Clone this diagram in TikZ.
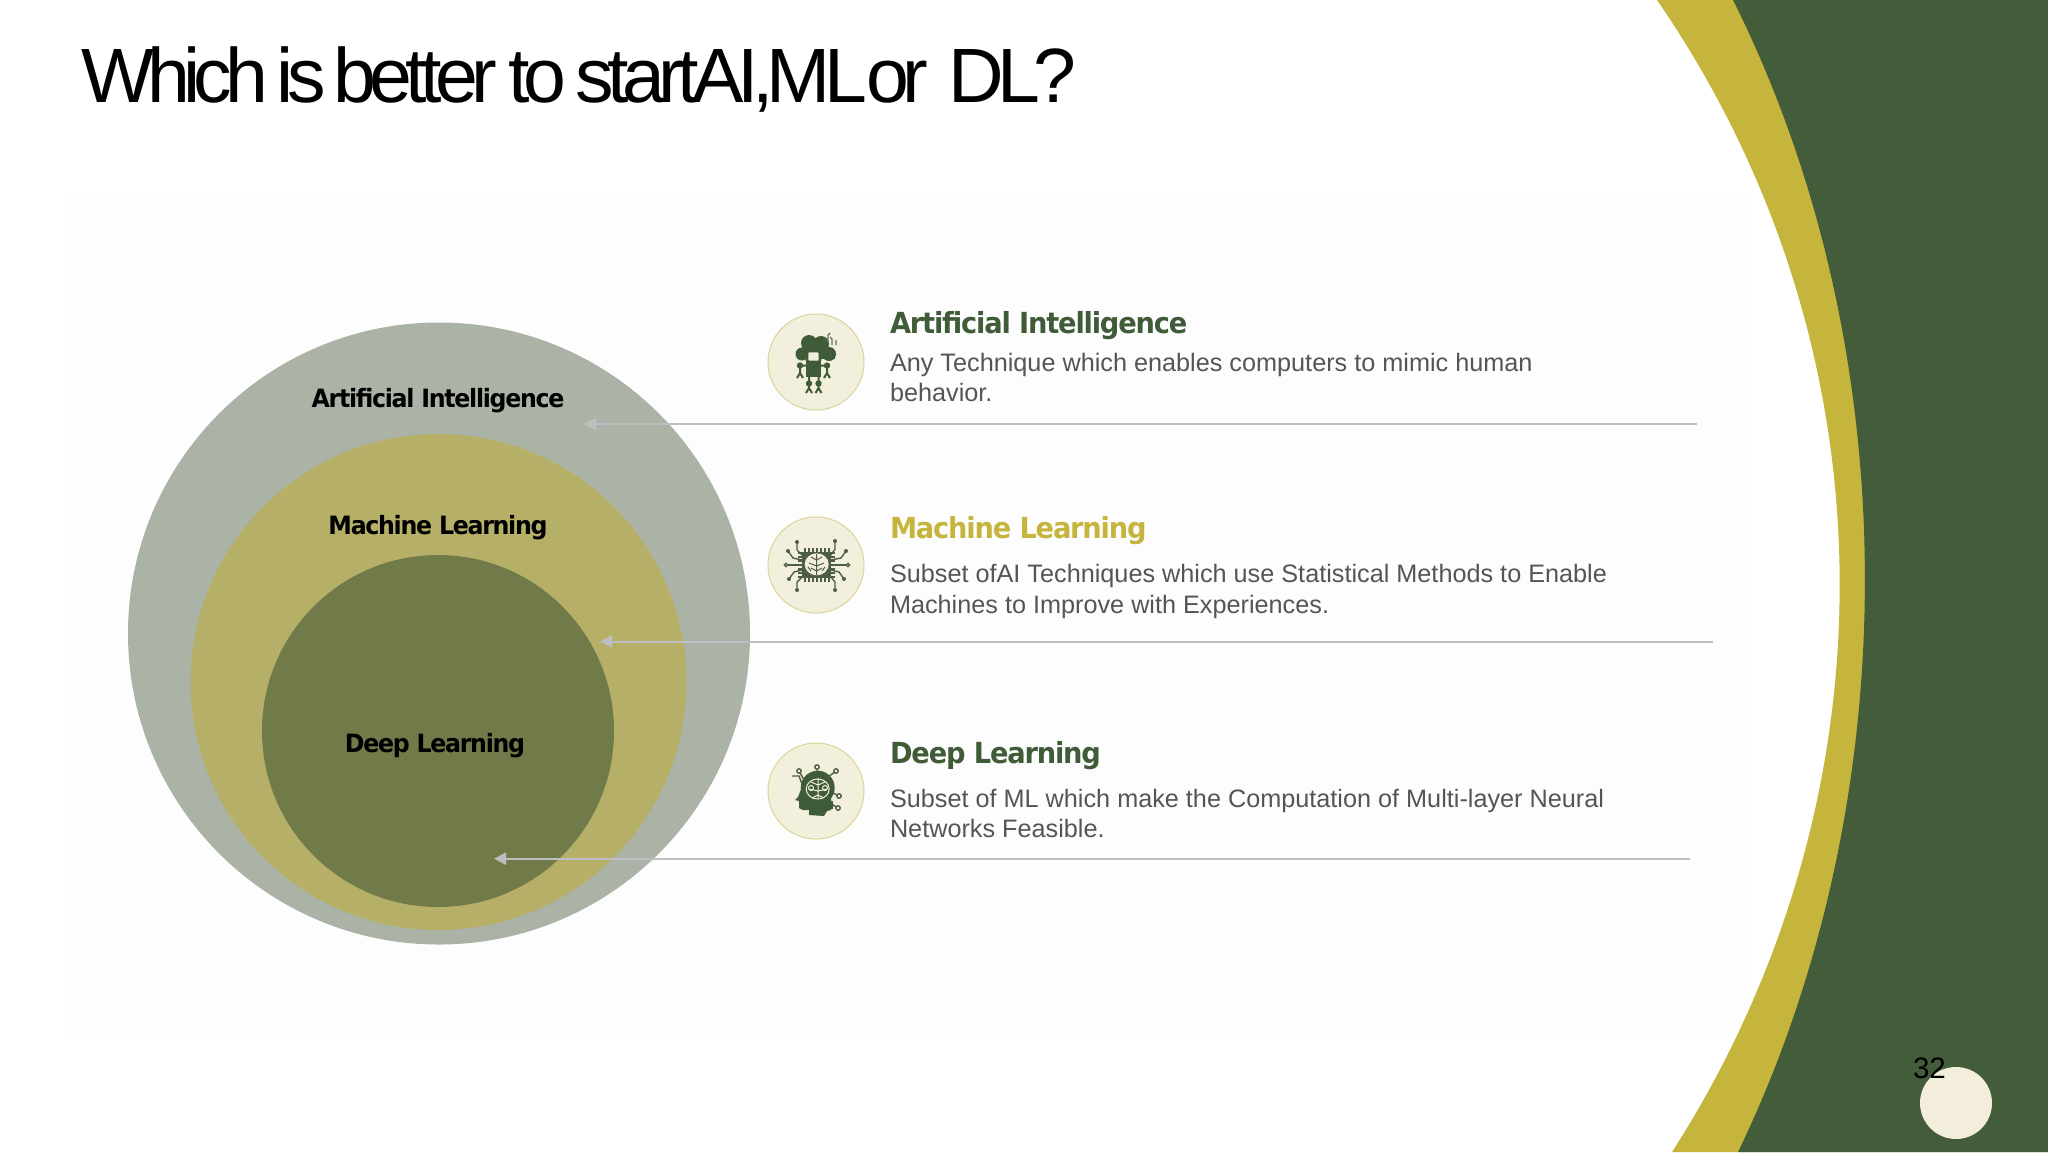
\documentclass[tikz,border=0pt]{standalone}
\usepackage{fontspec}
\usetikzlibrary{arrows.meta}
\setmainfont{Liberation Sans}
\newfontfamily\bodyf{Liberation Sans}
\newfontfamily\titlef[LetterSpace=-8.6,WordSpace=0.85]{Liberation Sans}
\newfontfamily\headf[LetterSpace=-4.1,FakeStretch=0.94]{DejaVu Sans}
\newfontfamily\circf[LetterSpace=-5.2,FakeStretch=0.94]{DejaVu Sans}
\definecolor{darkgr}{HTML}{435C3A}
\definecolor{gold}{HTML}{C5B53C}
\definecolor{aicol}{HTML}{ABB3A7}
\definecolor{mlcol}{HTML}{B6AF68}
\definecolor{dlcol}{HTML}{717B4A}
\definecolor{panel}{HTML}{FDFDFD}
\definecolor{iconbg}{HTML}{F2F0DC}
\definecolor{iconedge}{HTML}{D8D59A}
\definecolor{linecol}{HTML}{BDBDC2}
\definecolor{bodycol}{HTML}{555555}
\definecolor{icondark}{HTML}{3F5B37}
\definecolor{chipdark}{HTML}{4E5E44}
\definecolor{creamcol}{HTML}{F3EEDB}
\tikzset{
  x=0.5pt,y=-0.5pt,
  txt/.style={inner sep=0pt,outer sep=0pt,anchor=base west},
  headtxt/.style={txt,font=\fontsize{14.5}{17}\headf\bfseries},
  bodytxt/.style={inner sep=0pt,outer sep=0pt,anchor=base west,font=\fontsize{12.62}{15.25}\bodyf,text=bodycol},
  circtxt/.style={inner sep=0pt,outer sep=0pt,anchor=base,font=\fontsize{12.6}{15}\circf\bfseries,text=black},
  iconcircle/.style={circle,minimum size=48pt,inner sep=0pt,fill=iconbg,draw=iconedge,line width=0.5pt},
  conn/.style={draw=linecol,line width=1pt,-{Triangle[length=6pt,width=6pt]}},
  trace/.style={draw=chipdark,line width=0.7pt,fill=none},
  lighttrace/.style={draw=iconbg,line width=0.5pt,fill=none},
}
\begin{document}
\begin{tikzpicture}
\useasboundingbox (0,0) rectangle (2048,1152);
\clip (0,0) rectangle (2048,1152);
\fill[white] (0,0) rectangle (2048,1152);
% panel
\fill[panel] (65,195) rectangle (1750,1033);
% gold band and dark area
\fill[gold] (1657,0) .. controls (1898,350) and (1898,800) .. (1672,1152) -- (2048,1152) -- (2048,0) -- cycle;
\fill[darkgr] (1733,0) .. controls (1908,350) and (1908,800) .. (1738,1152) -- (2048,1152) -- (2048,0) -- cycle;
% slide number disc
\node[circle,fill=creamcol,minimum size=36pt,inner sep=0pt] (disc) at (1956,1103) {};
\node[txt,font=\fontsize{14.8}{17}\bodyf,text=black] (pagenum) at (1913,1078) {32};
% title
\node[txt,font=\fontsize{38.5}{44}\titlef,text=black] (title) at (81,102) {Which\hspace{-2pt} is\hspace{-2.6pt} better\hspace{-0.65pt} to\hspace{-1.3pt} startAI,ML\hspace{-6.5pt} or\hspace{3.7pt} DL?};
% nested circles
\node[circle,fill=aicol,minimum size=311pt,inner sep=0pt] (aic) at (439,633.5) {};
\node[circle,fill=mlcol,minimum size=248pt,inner sep=0pt] (mlc) at (438.5,682) {};
\node[circle,fill=dlcol,minimum size=176pt,inner sep=0pt] (dlc) at (438,731) {};
\node[circtxt] (ailab) at (438,407) {Artificial Intelligence};
\node[circtxt] (mllab) at (438,534) {Machine Learning};
\node[circtxt] (dllab) at (435,752) {Deep Learning};
% connectors
\coordinate (a1s) at (1697,424); \coordinate (a1t) at (584,424);
\coordinate (a2s) at (1713,641.5); \coordinate (a2t) at (600,641.5);
\coordinate (a3s) at (1690,858.7); \coordinate (a3t) at (494,858.7);
\draw[conn] (a1s) -- (a1t);
\draw[conn] (a2s) -- (a2t);
\draw[conn] (a3s) -- (a3t);
% icon discs
\node[iconcircle] (ic1) at (816,362) {};
\node[iconcircle] (ic2) at (816,565) {};
\node[iconcircle] (ic3) at (816,791) {};
% icon 1: robot under a cloud
\begin{scope}[shift={(816,362)}]
  \fill[icondark] (-7,-19) circle[radius=8] (5,-18) circle[radius=8] (-14,-8) circle[radius=6.5] (13,-8) circle[radius=7] (-1,-14) circle[radius=9];
  \fill[icondark] (-19,-8) rectangle (19,-3);
  \fill[icondark] (-14,-18) rectangle (10,-3);
  \draw[icondark,line width=1.3pt,fill=iconbg,rounded corners=1pt] (-9,-11) rectangle (4,0);
  \fill[icondark] (-10,-1) rectangle (5,15);
  \fill[icondark] (-16,3.5) circle[radius=3.2] (11,3.5) circle[radius=3.2];
  \draw[icondark,line width=1pt] (-16,3.5) -- (-10,3.5) (5,3.5) -- (11,3.5) (-16,3.5) -- (-16,11) -- (-19,16) (-16,11) -- (-13,16) (11,3.5) -- (11,11) -- (8,16) (11,11) -- (14,16);
  \fill[icondark] (-7,21.5) circle[radius=3.2] (2.5,21.5) circle[radius=3.2];
  \draw[icondark,line width=1pt] (-7,15) -- (-7,26) -- (-10,31) (-7,26) -- (-4,31) (2.5,15) -- (2.5,26) -- (-0.5,31) (2.5,26) -- (5.5,31);
  \draw[gray!60!icondark,line width=0.7pt] (12,-19) -- (12,-27) -- (14,-29) (16,-17) -- (16,-23) -- (14,-25) (20,-17) -- (20,-22);
\end{scope}
% icon 2: brain on a chip
\begin{scope}[shift={(816,565)}]
  \foreach \i in {-12,-8,-4,0,4,8,12} {
    \draw[chipdark,line width=0.8pt] (\i+0.7,-17) -- (\i+0.7,17);
    \draw[chipdark,line width=0.8pt] (-18,\i) -- (19,\i);
  }
  \fill[chipdark] (-14,-13) rectangle (15,13);
  \foreach \ax/\ay/\bx/\by/\cx/\cy in {-19/-23/-19/-15/-14/-10,19/-24/19/-16/15/-10,-28/-14/-23/-7/-14/-5,30/-14/25/-7/15/-5,-27/14/-22/7/-14/5,28/14/23/7/15/5,-19/25/-19/17/-14/12,19/25/19/17/15/12} {
    \draw[trace] (\ax,\ay) -- (\bx,\by) -- (\cx,\cy);
    \fill[chipdark] (\ax,\ay) circle[radius=2];
  }
  \draw[trace] (-30,0) -- (-14,0) (32,0) -- (15,0);
  \draw[chipdark,line width=0.6pt,fill=iconbg] (-30,0) circle[radius=1.8] (32,0) circle[radius=1.8];
  \fill[iconbg] (0.7,-0.7) ellipse[x radius=12,y radius=11];
  \draw[chipdark,line width=0.5pt] (0.7,-11) -- (0.7,10) (0.7,-5) -- (-5,-8) (0.7,-5) -- (6,-8) (0.7,1) -- (-7,-2) (0.7,1) -- (8,-2) (0.7,6) -- (-5,3) (0.7,6) -- (6,3) (-8,2) -- (-5,6) (9,2) -- (6,6);
\end{scope}
% icon 3: head with brain and nodes
\begin{scope}[shift={(816,791)}]
  \fill[icondark] (1.7,-3.3) circle[radius=17];
  \fill[icondark] (-14,-4) -- (-18,6) -- (-21,9) -- (-17,10) -- (-17,17) -- (-13,19) -- (-7,19) -- (-7,24) -- (8,25) -- (11,20) -- (15,19) -- (15,5) -- cycle;
  \fill[icondark] (2,18) -- (17,18) -- (17,10) -- (2,10) -- cycle;
  \draw[lighttrace] (2,-13) -- (2,7) (2,-6) -- (-5,-9) (2,-6) -- (9,-9) (2,0) -- (-7,-2) (2,0) -- (11,-2) (2,4) -- (-4,7) (2,4) -- (8,7);
  \draw[lighttrace] (1.7,-2) ellipse[x radius=11.5,y radius=10];
  \draw[lighttrace] (-5,-3) circle[radius=2.5] (9,-3) circle[radius=2.5];
  \draw[trace] (-17,-20) -- (-12,-11) (1,-24) -- (1,-19) (20,-20) -- (12,-14) (-24,-15) -- (-17,-15) -- (-14,-7) (23,5) -- (17,2) (22,17) -- (17,14) -- (15,10);
  \draw[chipdark,line width=0.7pt,fill=iconbg] (-17,-20) circle[radius=2.2] (1,-24) circle[radius=2.2] (20,-20) circle[radius=2.2] (23,5) circle[radius=2.2] (22,17) circle[radius=2.2];
\end{scope}
% headings and body
\node[headtxt,text=icondark] (h1) at (890,333) {Artificial Intelligence};
\node[bodytxt] (b1a) at (890,371) {Any Technique which enables computers to mimic human};
\node[bodytxt] (b1b) at (890,401.5) {behavior.};
\node[headtxt,text=gold] (h2) at (890,538) {Machine Learning};
\node[bodytxt] (b2a) at (890,582.5) {Subset ofAI Techniques which use Statistical Methods to Enable};
\node[bodytxt] (b2b) at (890,613) {Machines to Improve with Experiences.};
\node[headtxt,text=icondark] (h3) at (890,763) {Deep Learning};
\node[bodytxt] (b3a) at (890,807) {Subset of ML which make the Computation of Multi-layer Neural};
\node[bodytxt] (b3b) at (890,837.5) {Networks Feasible.};
\end{tikzpicture}
\end{document}
